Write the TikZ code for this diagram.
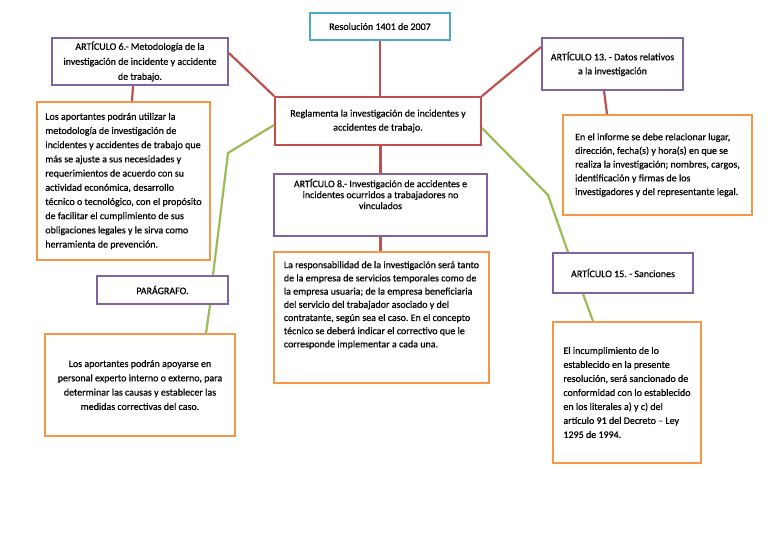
\documentclass[tikz,border=0pt]{standalone}
\usepackage{fontspec}
\setmainfont{Carlito}[FakeBold=0.5]
\frenchspacing
\definecolor{tealline}{HTML}{4BACC6}
\definecolor{redline}{HTML}{C0504D}
\definecolor{purpleline}{HTML}{8064A2}
\definecolor{orangeline}{HTML}{F79646}
\definecolor{greenline}{HTML}{9BBB59}
\begin{document}
\begin{tikzpicture}[x=1pt,y=-1pt,
  box/.style={draw,line width=1.8pt,inner sep=0pt,fill=white},
  titlebox/.style={box,draw=purpleline,align=center},
  notebox/.style={box,draw=orangeline},
  redlink/.style={draw=redline,line width=2.2pt},
  greenlink/.style={draw=greenline,line width=2.2pt}]
\useasboundingbox[fill=white] (0,0) rectangle (768,543);
\coordinate (bendL) at (228,153);
\coordinate (bendR) at (548,195);
% boxes
\node[box,draw=tealline,minimum width=140pt,minimum height=27pt,font=\fontsize{10}{12}\selectfont] (res) at (380,26.5) {Resolución 1401 de 2007};
\node[box,draw=redline,minimum width=206pt,minimum height=48pt,align=center,font=\fontsize{10}{14}\selectfont] (regl) at (378,121) {Reglamenta la investigación de incidentes y\\ accidentes de trabajo.};
\node[titlebox,minimum width=176pt,minimum height=47pt,font=\fontsize{10}{15}\selectfont] (art6) at (140,61.5) {ARTÍCULO 6.- Metodología de la\\ investigación de incidente y accidente\\ de trabajo.};
\node[notebox,minimum width=173pt,minimum height=158pt,align=left,font=\fontsize{10}{14.2}\selectfont] (nota6) at (123.5,181) {Los aportantes podrán utilizar la\\ metodología de investigación de\\ incidentes y accidentes de trabajo que\\ más se ajuste a sus necesidades y\\ requerimientos de acuerdo con su\\ actividad económica, desarrollo\\ técnico o tecnológico, con el propósito\\ de facilitar el cumplimiento de sus\\ obligaciones legales y le sirva como\\ herramienta de prevención.};
\node[titlebox,minimum width=131pt,minimum height=28pt,font=\fontsize{10}{12}\selectfont] (parag) at (162.5,290) {PARÁGRAFO.};
\node[notebox,minimum width=190pt,minimum height=102pt,align=center,font=\fontsize{10}{14.3}\selectfont] (notap) at (140,385) {Los aportantes podrán apoyarse en\\ personal experto interno o externo, para\\ determinar las causas y establecer las\\ medidas correctivas del caso.};
\node[titlebox,minimum width=141pt,minimum height=52pt,font=\fontsize{10}{14}\selectfont] (art13) at (612.5,64) {ARTÍCULO 13. - Datos relativos\\ a la investigación};
\node[notebox,minimum width=189pt,minimum height=100pt,align=left,font=\fontsize{10}{13.7}\selectfont] (nota13) at (657.5,165) {En el informe se debe relacionar lugar,\\ dirección, fecha(s) y hora(s) en que se\\ realiza la investigación; nombres, cargos,\\ identificación y firmas de los\\ investigadores y del representante legal.};
\node[titlebox,minimum width=213pt,minimum height=62pt,font=\fontsize{10}{11}\selectfont] (art8) at (380.5,205) {ARTÍCULO 8.- Investigación de accidentes e\\ incidentes ocurridos a trabajadores no\\ vinculados\\ \mbox{}\\ \mbox{}};
\node[notebox,minimum width=215pt,minimum height=131pt,align=left,font=\fontsize{10}{13.2}\selectfont] (nota8) at (381.5,317.5) {La responsabilidad de la investigación será tanto\\ de la empresa de servicios temporales como de\\ la empresa usuaria; de la empresa beneficiaria\\ del servicio del trabajador asociado y del\\ contratante, según sea el caso. En el concepto\\ técnico se deberá indicar el correctivo que le\\ corresponde implementar a cada una.\\ \mbox{}\\ \mbox{}};
\node[titlebox,minimum width=140pt,minimum height=40pt,font=\fontsize{10}{12}\selectfont] (art15) at (623,273) {ARTÍCULO 15. - Sanciones};
\node[notebox,minimum width=148pt,minimum height=141pt,align=left,font=\fontsize{10}{14}\selectfont] (nota15) at (627,392.5) {El incumplimiento de lo\\ establecido en la presente\\ resolución, será sancionado de\\ conformidad con lo establecido\\ en los literales a) y c) del\\ artículo 91 del Decreto -- Ley\\ 1295 de 1994.};
% connectors
\draw[redlink] (res.south) -- (res.south |- regl.north);
\draw[redlink] ([yshift=8.5pt]art6.east) -- (regl.north west);
\draw[redlink] (regl.north east) -- ([yshift=17pt]art13.west);
\draw[redlink] ([xshift=-7pt]art6.south) -- ([xshift=8.5pt]nota6.north);
\draw[redlink] ([xshift=-8.5pt]art13.south) -- ([xshift=-50.5pt]nota13.north);
\draw[redlink] (regl.south -| art8.north) -- (art8.north);
\draw[redlink] (art8.south) -- (art8.south |- nota8.north);
\draw[greenlink] ([yshift=-4pt]regl.west) -- (bendL) -- ([xshift=50.5pt]parag.north);
\draw[greenlink] ([xshift=47.5pt]parag.south) -- ([xshift=66pt]notap.north);
\draw[greenlink] ([yshift=-7pt]regl.east) -- (bendR) -- ([xshift=-55pt]art15.north);
\draw[greenlink] ([xshift=-40pt]art15.south) -- ([xshift=-34pt]nota15.north);
\end{tikzpicture}
\end{document}
